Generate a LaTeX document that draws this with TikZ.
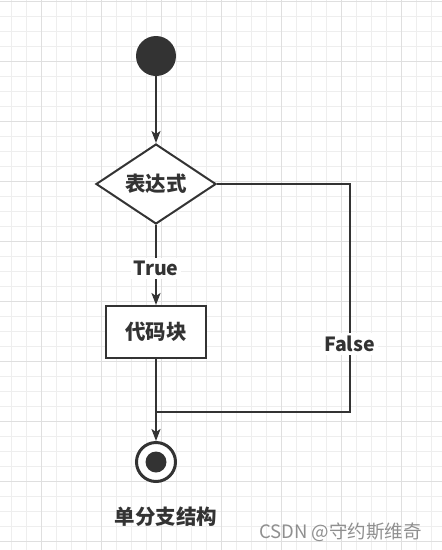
\documentclass[tikz,border=0pt]{standalone}
\usepackage{fontspec}
\usepackage{xcolor}
\setmainfont{Noto Sans CJK SC}
\usepackage{tikz}
\usetikzlibrary{arrows.meta,shapes.geometric}

\definecolor{ink}{HTML}{333333}
\definecolor{gridminor}{HTML}{EEEEEE}
\definecolor{gridmajor}{HTML}{DFDFDF}
\definecolor{wmgray}{HTML}{8F8F8F}

\tikzset{
  wire/.style={draw=ink,line width=2pt},
  flow/.style={wire,-{Stealth[length=12pt,width=9pt,inset=3pt]}},
  cond/.style={diamond,draw=ink,line width=2pt,fill=white,text=ink,aspect=1.5,inner sep=0pt,
    minimum width=120pt,minimum height=80pt,font=\fontsize{20.5}{20.5}\selectfont\bfseries},
  block/.style={rectangle,draw=ink,line width=2pt,fill=white,text=ink,inner sep=0pt,
    minimum width=100pt,minimum height=52pt,font=\fontsize{20.5}{20.5}\selectfont\bfseries},
  tag/.style={fill=white,text=ink,inner sep=3pt,font=\fontsize{19.5}{19.5}\selectfont\bfseries},
}

\begin{document}
\begin{tikzpicture}[x=1pt,y=-1pt]
        \useasboundingbox[fill=white](0,0)rectangle(442,550);
        % grid
        \foreach \gx in {11.7,26.7,...,441}
            \draw[gridminor,line width=1pt](\gx,0)--(\gx,550);
        \foreach \gy in {1.7,16.7,...,549}
            \draw[gridminor,line width=1pt](0,\gy)--(442,\gy);
        \foreach \gx in {41.7,101.7,...,441}
            \draw[gridmajor,line width=1pt](\gx,0)--(\gx,550);
        \foreach \gy in {1.7,61.7,...,549}
            \draw[gridmajor,line width=1pt](0,\gy)--(442,\gy);

        \node[circle,fill=ink,minimum size=40pt,inner sep=0pt](start) at (156,56){};
        \node[cond](expr) at (156,184){表达式};
        \node[block](code) at (156,332){代码块};
        \node[circle,draw=ink,line width=3pt,fill=white,minimum size=39pt,inner sep=0pt](stop) at (156,462){};
        \node[circle,fill=ink,minimum size=21pt,inner sep=0pt](stopdot) at (stop){};
        \node[text=ink,font=\fontsize{20.5}{20.5}\selectfont\bfseries](title) at (166,517){单分支结构};
        \node[text=wmgray,font=\fontsize{18.5}{18.5}\selectfont](wm) at (340.5,532){CSDN @守约斯维奇};

        \coordinate(corner) at (349.5,412);
        \coordinate(join) at (156,412);

        \draw[flow](start)--(expr);
        \draw[flow](expr)--node[tag,pos=0.54]{True}(code);
        \draw[wire](expr.east)-|node[tag,pos=0.85]{False}(corner)--(join);
        \draw[flow](code)--(stop);
    \end{tikzpicture}
\end{document}
